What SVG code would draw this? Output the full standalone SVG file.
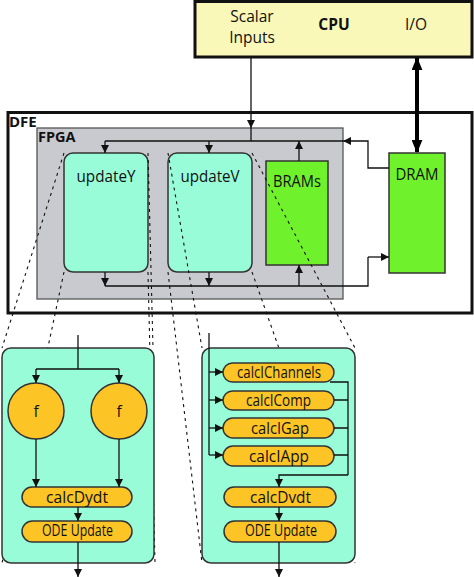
<svg xmlns="http://www.w3.org/2000/svg" width="474" height="577" viewBox="0 0 474 577">
<defs>
<marker id="ah" viewBox="0 0 10 10" refX="10" refY="5" markerWidth="8" markerHeight="8" markerUnits="userSpaceOnUse" orient="auto"><path d="M0,0 L10,5 L0,10 z" fill="#111"/></marker>
<marker id="ahb" viewBox="0 0 12 10" refX="11" refY="5" markerWidth="13" markerHeight="11" markerUnits="userSpaceOnUse" orient="auto-start-reverse"><path d="M0,0 L12,5 L0,10 z" fill="#000"/></marker>
</defs>
<style>
text{font-family:"Open Sans","Noto Sans","Liberation Sans",sans-serif;fill:#111;}
.b{font-weight:bold;}
.lbl{font-size:15.5px;text-anchor:middle;}
.pl{font-size:15.5px;text-anchor:middle;}
.aq{fill:#98fcd8;stroke:#333;stroke-width:1.5;}
.gr{fill:#6ff22b;stroke:#333;stroke-width:1.5;}
.yo{fill:#fcc425;stroke:#333;stroke-width:1.5;}
.ln{fill:none;stroke:#111;stroke-width:1.3;}
.la{fill:none;stroke:#111;stroke-width:1.3;marker-end:url(#ah);}
.da{fill:none;stroke:#111;stroke-width:1.1;stroke-dasharray:3 4;}
</style>
<rect width="474" height="577" fill="#fff"/>
<g id="cpu">
<rect x="195" y="1.5" width="277" height="55.5" fill="#f9f8b8" stroke="#111" stroke-width="3"/>
<text class="lbl" x="252" y="22" font-size="14.5">Scalar</text>
<text class="lbl" x="252" y="43" font-size="14.5">Inputs</text>
<text class="lbl b" x="334" y="30">CPU</text>
<text class="lbl" x="416" y="30">I/O</text>
</g>
<g id="dfe">
<rect x="8" y="112.5" width="464" height="200.5" fill="#fff" stroke="#111" stroke-width="3"/>
<text class="b" x="9" y="127" font-size="15">DFE</text>
</g>
<g id="fpga">
<rect x="37" y="128" width="306" height="171" fill="#c9cacf" stroke="#555" stroke-width="1.3"/>
<text class="b" x="38" y="142" font-size="14.5">FPGA</text>
</g>
<g id="updateY">
<rect class="aq" x="64" y="153" width="84" height="119" rx="9"/>
<text class="lbl" x="106" y="182" textLength="59" lengthAdjust="spacingAndGlyphs">updateY</text>
</g>
<g id="updateV">
<rect class="aq" x="168" y="153" width="84" height="119" rx="9"/>
<text class="lbl" x="210" y="182" textLength="59" lengthAdjust="spacingAndGlyphs">updateV</text>
</g>
<g id="brams">
<rect class="gr" x="266" y="161" width="62" height="104"/>
<text class="lbl" x="297" y="187" textLength="48" lengthAdjust="spacingAndGlyphs">BRAMs</text>
</g>
<g id="dram">
<rect class="gr" x="389" y="153" width="56" height="120"/>
<text class="lbl" x="417" y="180" textLength="43" lengthAdjust="spacingAndGlyphs">DRAM</text>
</g>
<g id="connectors">
<path class="la" d="M251,57 V128"/>
<path class="ln" d="M251,128 V141"/>
<path class="ln" d="M105,141 H343"/>
<path class="la" d="M105,141 V153"/>
<path class="la" d="M209,141 V153"/>
<path class="la" d="M299,161 V141"/>
<path class="la" d="M389,168 H368 V141 H343"/>
<path fill="none" stroke="#000" stroke-width="4" marker-start="url(#ahb)" marker-end="url(#ahb)" d="M417,58 V152"/>
<path class="la" d="M105,272 V286"/>
<path class="la" d="M209,272 V286"/>
<path class="ln" d="M105,286 H368 V257"/>
<path class="la" d="M368,257 H389"/>
<path class="la" d="M299,286 V265"/>
<path class="da" d="M64,153 L2,348"/>
<path class="da" d="M64,272 L2,563"/>
<path class="da" d="M148,153 L153,348"/>
<path class="da" d="M148,272 L155,563"/>
<path class="da" d="M168,153 L202,348"/>
<path class="da" d="M168,272 L202,563"/>
<path class="da" d="M252,153 L355,348"/>
<path class="da" d="M252,272 L355,563"/>
</g>
<g id="panelY">
<rect class="aq" x="2" y="348" width="152" height="215" rx="9"/>
</g>
<g id="panelV">
<rect class="aq" x="202" y="348" width="153" height="215" rx="9"/>
</g>
<g id="f1"><circle class="yo" cx="36" cy="411" r="28"/><text class="lbl" x="36" y="417">f</text></g>
<g id="f2"><circle class="yo" cx="119" cy="411" r="28"/><text class="lbl" x="119" y="417">f</text></g>
<g id="calcDydt"><rect class="yo" x="22" y="487" width="110" height="20" rx="10"/><text class="pl" x="77" y="502.5" textLength="62" lengthAdjust="spacingAndGlyphs">calcDydt</text></g>
<g id="odeY"><rect class="yo" x="22" y="521" width="110" height="21" rx="10.5"/><text class="pl" x="77.5" y="536" font-size="13" textLength="71" lengthAdjust="spacingAndGlyphs">ODE Update</text></g>
<g id="calcIChannels"><rect class="yo" x="223" y="363" width="111" height="19" rx="9.5"/><text class="pl" x="279" y="378" textLength="84" lengthAdjust="spacingAndGlyphs">calcIChannels</text></g>
<g id="calcIComp"><rect class="yo" x="223" y="391" width="111" height="19" rx="9.5"/><text class="pl" x="278.5" y="405.5" textLength="65" lengthAdjust="spacingAndGlyphs">calcIComp</text></g>
<g id="calcIGap"><rect class="yo" x="223" y="418" width="111" height="20" rx="10"/><text class="pl" x="280" y="433.5" textLength="58" lengthAdjust="spacingAndGlyphs">calcIGap</text></g>
<g id="calcIApp"><rect class="yo" x="223" y="446" width="111" height="20" rx="10"/><text class="pl" x="279" y="461.5" textLength="60" lengthAdjust="spacingAndGlyphs">calcIApp</text></g>
<g id="calcDvdt"><rect class="yo" x="224" y="487" width="112" height="20" rx="10"/><text class="pl" x="280.5" y="502.5" textLength="61" lengthAdjust="spacingAndGlyphs">calcDvdt</text></g>
<g id="odeV"><rect class="yo" x="224" y="521" width="112" height="21" rx="10.5"/><text class="pl" x="281" y="536" font-size="13" textLength="72" lengthAdjust="spacingAndGlyphs">ODE Update</text></g>
<g id="inner-connectors">
<path class="ln" d="M78,335 V369 M36,369 H119"/>
<path class="la" d="M36,369 V383"/>
<path class="la" d="M119,369 V383"/>
<path class="la" d="M36,439 V487"/>
<path class="la" d="M119,439 V487"/>
<path class="la" d="M78,507 V521"/>
<path class="la" d="M78,542 V577"/>
<path class="ln" d="M209,333 V455"/>
<path class="la" d="M209,372 H223"/>
<path class="la" d="M209,400 H223"/>
<path class="la" d="M209,428 H223"/>
<path class="la" d="M209,455 H223"/>
<path class="ln" d="M330,382 H348 V475 M334,400 H348 M334,428 H348 M334,455 H348"/>
<path class="la" d="M348,475 H279 V487"/>
<path class="la" d="M279,507 V521"/>
<path class="la" d="M279,542 V577"/>
</g>
</svg>
